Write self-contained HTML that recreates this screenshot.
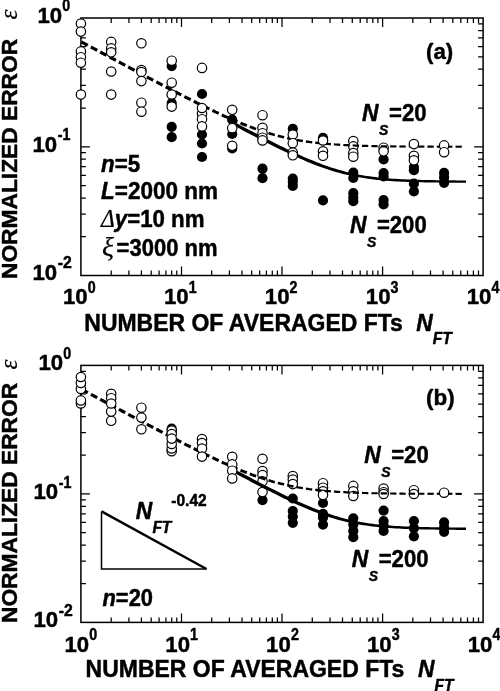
<!DOCTYPE html>
<html><head><meta charset="utf-8"><title>Normalized error vs number of averaged FTs</title>
<style>html,body{margin:0;padding:0;background:#fff}svg{display:block}text{font-family:"Liberation Sans",Arial,Helvetica,sans-serif;font-weight:bold;fill:#000;stroke:#000;stroke-width:0.45px;stroke-linejoin:round}.i{font-style:italic}.s{font-family:"Liberation Serif","DejaVu Serif",serif;font-style:italic;font-weight:normal;stroke-width:0.2px}</style></head><body>
<svg width="500" height="691" viewBox="0 0 500 691">
<rect width="500" height="691" fill="#fff"/>
<path d="M111.2 18.0v5.0M111.2 275.5v-5.0M128.9 18.0v5.0M128.9 275.5v-5.0M141.4 18.0v5.0M141.4 275.5v-5.0M151.2 18.0v5.0M151.2 275.5v-5.0M159.1 18.0v5.0M159.1 275.5v-5.0M165.9 18.0v5.0M165.9 275.5v-5.0M171.7 18.0v5.0M171.7 275.5v-5.0M176.8 18.0v5.0M176.8 275.5v-5.0M181.5 18.0v9.0M181.5 275.5v-9.0M211.7 18.0v5.0M211.7 275.5v-5.0M229.4 18.0v5.0M229.4 275.5v-5.0M242.0 18.0v5.0M242.0 275.5v-5.0M251.7 18.0v5.0M251.7 275.5v-5.0M259.7 18.0v5.0M259.7 275.5v-5.0M266.4 18.0v5.0M266.4 275.5v-5.0M272.3 18.0v5.0M272.3 275.5v-5.0M277.4 18.0v5.0M277.4 275.5v-5.0M282.0 18.0v9.0M282.0 275.5v-9.0M312.3 18.0v5.0M312.3 275.5v-5.0M330.0 18.0v5.0M330.0 275.5v-5.0M342.5 18.0v5.0M342.5 275.5v-5.0M352.3 18.0v5.0M352.3 275.5v-5.0M360.2 18.0v5.0M360.2 275.5v-5.0M367.0 18.0v5.0M367.0 275.5v-5.0M372.8 18.0v5.0M372.8 275.5v-5.0M377.9 18.0v5.0M377.9 275.5v-5.0M382.6 18.0v9.0M382.6 275.5v-9.0M412.8 18.0v5.0M412.8 275.5v-5.0M430.5 18.0v5.0M430.5 275.5v-5.0M443.1 18.0v5.0M443.1 275.5v-5.0M452.8 18.0v5.0M452.8 275.5v-5.0M460.8 18.0v5.0M460.8 275.5v-5.0M467.5 18.0v5.0M467.5 275.5v-5.0M473.4 18.0v5.0M473.4 275.5v-5.0M478.5 18.0v5.0M478.5 275.5v-5.0M80.9 236.7h5.0M483.1 236.7h-5.0M80.9 214.1h5.0M483.1 214.1h-5.0M80.9 198.0h5.0M483.1 198.0h-5.0M80.9 185.5h5.0M483.1 185.5h-5.0M80.9 175.3h5.0M483.1 175.3h-5.0M80.9 166.7h5.0M483.1 166.7h-5.0M80.9 159.2h5.0M483.1 159.2h-5.0M80.9 152.6h5.0M483.1 152.6h-5.0M80.9 146.8h9.0M483.1 146.8h-9.0M80.9 108.0h5.0M483.1 108.0h-5.0M80.9 85.3h5.0M483.1 85.3h-5.0M80.9 69.2h5.0M483.1 69.2h-5.0M80.9 56.8h5.0M483.1 56.8h-5.0M80.9 46.6h5.0M483.1 46.6h-5.0M80.9 37.9h5.0M483.1 37.9h-5.0M80.9 30.5h5.0M483.1 30.5h-5.0M80.9 23.9h5.0M483.1 23.9h-5.0" stroke="#000" stroke-width="1.25" fill="none"/>
<rect x="80.9" y="18.0" width="402.2" height="257.5" fill="none" stroke="#000" stroke-width="1.5"/>
<circle cx="171.7" cy="66.1" r="5.1" fill="#000"/>
<circle cx="171.7" cy="103.0" r="5.1" fill="#000"/>
<circle cx="171.7" cy="126.8" r="5.1" fill="#000"/>
<circle cx="171.7" cy="137.2" r="5.1" fill="#000"/>
<circle cx="202.0" cy="94.0" r="5.1" fill="#000"/>
<circle cx="202.0" cy="134.5" r="5.1" fill="#000"/>
<circle cx="202.0" cy="143.5" r="5.1" fill="#000"/>
<circle cx="202.0" cy="157.0" r="5.1" fill="#000"/>
<circle cx="232.2" cy="119.7" r="5.1" fill="#000"/>
<circle cx="232.2" cy="134.0" r="5.1" fill="#000"/>
<circle cx="232.2" cy="148.5" r="5.1" fill="#000"/>
<circle cx="262.5" cy="168.7" r="5.1" fill="#000"/>
<circle cx="262.5" cy="178.2" r="5.1" fill="#000"/>
<circle cx="292.8" cy="128.8" r="5.1" fill="#000"/>
<circle cx="292.8" cy="178.6" r="5.1" fill="#000"/>
<circle cx="292.8" cy="181.9" r="5.1" fill="#000"/>
<circle cx="292.8" cy="186.0" r="5.1" fill="#000"/>
<circle cx="323.0" cy="137.8" r="5.1" fill="#000"/>
<circle cx="323.0" cy="200.4" r="5.1" fill="#000"/>
<circle cx="353.3" cy="172.5" r="5.1" fill="#000"/>
<circle cx="353.3" cy="178.0" r="5.1" fill="#000"/>
<circle cx="353.3" cy="193.2" r="5.1" fill="#000"/>
<circle cx="353.3" cy="197.5" r="5.1" fill="#000"/>
<circle cx="353.3" cy="201.2" r="5.1" fill="#000"/>
<circle cx="383.6" cy="159.4" r="5.1" fill="#000"/>
<circle cx="383.6" cy="173.0" r="5.1" fill="#000"/>
<circle cx="383.6" cy="176.5" r="5.1" fill="#000"/>
<circle cx="383.6" cy="200.0" r="5.1" fill="#000"/>
<circle cx="383.6" cy="204.4" r="5.1" fill="#000"/>
<circle cx="413.9" cy="167.0" r="5.1" fill="#000"/>
<circle cx="413.9" cy="170.2" r="5.1" fill="#000"/>
<circle cx="413.9" cy="183.7" r="5.1" fill="#000"/>
<circle cx="413.9" cy="191.4" r="5.1" fill="#000"/>
<circle cx="444.1" cy="172.9" r="5.1" fill="#000"/>
<circle cx="444.1" cy="177.4" r="5.1" fill="#000"/>
<circle cx="444.1" cy="182.8" r="5.1" fill="#000"/>
<circle cx="353.3" cy="141.0" r="4.7" fill="#fff" stroke="#000" stroke-width="1.2"/>
<circle cx="353.3" cy="146.4" r="4.7" fill="#fff" stroke="#000" stroke-width="1.2"/>
<circle cx="353.3" cy="153.0" r="4.7" fill="#fff" stroke="#000" stroke-width="1.2"/>
<circle cx="353.3" cy="156.7" r="4.7" fill="#fff" stroke="#000" stroke-width="1.2"/>
<circle cx="383.6" cy="147.7" r="4.7" fill="#fff" stroke="#000" stroke-width="1.2"/>
<circle cx="383.6" cy="151.3" r="4.7" fill="#fff" stroke="#000" stroke-width="1.2"/>
<g stroke="#000" fill="none"><path d="M455.5 146.7 L457.1 146.7 L458.6 146.7 L460.2 146.7 L461.8 146.7" stroke-width="2.10"/><path d="M446.1 146.7 L447.7 146.7 L449.3 146.7 L450.9 146.7 L452.4 146.7" stroke-width="2.10"/><path d="M436.8 146.7 L438.4 146.7 L440.0 146.7 L441.5 146.7 L443.1 146.7" stroke-width="2.10"/><path d="M427.4 146.6 L429.0 146.6 L430.6 146.6 L432.2 146.6 L433.8 146.7" stroke-width="2.11"/><path d="M418.1 146.6 L419.7 146.6 L421.2 146.6 L422.8 146.6 L424.4 146.6" stroke-width="2.11"/><path d="M408.8 146.5 L410.3 146.5 L411.9 146.6 L413.5 146.6 L415.1 146.6" stroke-width="2.11"/><path d="M399.4 146.5 L401.0 146.5 L402.6 146.5 L404.1 146.5 L405.7 146.5" stroke-width="2.12"/><path d="M390.1 146.4 L391.6 146.4 L393.2 146.4 L394.8 146.4 L396.4 146.4" stroke-width="2.12"/><path d="M380.7 146.2 L382.3 146.2 L383.9 146.3 L385.4 146.3 L387.0 146.3" stroke-width="2.13"/><path d="M371.4 146.0 L372.9 146.1 L374.5 146.1 L376.1 146.1 L377.7 146.2" stroke-width="2.14"/><path d="M362.0 145.8 L363.6 145.8 L365.1 145.9 L366.7 145.9 L368.3 146.0" stroke-width="2.15"/><path d="M352.7 145.4 L354.2 145.5 L355.8 145.6 L357.4 145.6 L359.0 145.7" stroke-width="2.17"/><path d="M343.3 145.0 L344.9 145.1 L346.5 145.2 L348.0 145.2 L349.6 145.3" stroke-width="2.20"/><path d="M333.9 144.4 L335.5 144.5 L337.1 144.6 L338.7 144.7 L340.2 144.8" stroke-width="2.23"/><path d="M324.6 143.7 L326.2 143.8 L327.8 143.9 L329.3 144.1 L330.9 144.2" stroke-width="2.26"/><path d="M315.2 142.7 L316.8 142.9 L318.4 143.0 L320.0 143.2 L321.6 143.4" stroke-width="2.31"/><path d="M305.9 141.5 L307.5 141.7 L309.1 141.9 L310.6 142.1 L312.2 142.3" stroke-width="2.37"/><path d="M296.6 139.9 L298.1 140.2 L299.7 140.5 L301.3 140.7 L302.9 141.0" stroke-width="2.43"/><path d="M287.2 138.0 L288.8 138.4 L290.4 138.7 L291.9 139.0 L293.5 139.3" stroke-width="2.51"/><path d="M277.8 135.8 L279.4 136.2 L281.0 136.6 L282.6 136.9 L284.1 137.3" stroke-width="2.59"/><path d="M268.5 133.1 L270.1 133.6 L271.6 134.0 L273.2 134.5 L274.8 134.9" stroke-width="2.67"/><path d="M259.2 130.1 L260.7 130.6 L262.3 131.2 L263.9 131.7 L265.5 132.2" stroke-width="2.74"/><path d="M249.8 126.7 L251.4 127.3 L253.0 127.9 L254.5 128.5 L256.1 129.0" stroke-width="2.82"/><path d="M240.5 123.0 L242.0 123.7 L243.6 124.3 L245.2 124.9 L246.8 125.6" stroke-width="2.88"/><path d="M231.1 119.1 L232.7 119.7 L234.3 120.4 L235.8 121.1 L237.4 121.8" stroke-width="2.94"/><path d="M221.8 114.9 L223.3 115.6 L224.9 116.3 L226.5 117.0 L228.1 117.7" stroke-width="2.99"/><path d="M212.4 110.5 L214.0 111.2 L215.6 112.0 L217.1 112.7 L218.7 113.4" stroke-width="3.02"/><path d="M203.1 105.9 L204.6 106.7 L206.2 107.5 L207.8 108.2 L209.4 109.0" stroke-width="3.06"/><path d="M193.7 101.3 L195.3 102.0 L196.8 102.8 L198.4 103.6 L200.0 104.4" stroke-width="3.08"/><path d="M184.4 96.5 L185.9 97.3 L187.5 98.1 L189.1 98.9 L190.7 99.7" stroke-width="3.10"/><path d="M175.0 91.7 L176.6 92.5 L178.2 93.3 L179.7 94.1 L181.3 94.9" stroke-width="3.11"/><path d="M165.7 86.8 L167.2 87.6 L168.8 88.4 L170.4 89.3 L172.0 90.1" stroke-width="3.12"/><path d="M156.3 81.9 L157.9 82.7 L159.5 83.5 L161.0 84.4 L162.6 85.2" stroke-width="3.13"/><path d="M146.9 76.9 L148.5 77.8 L150.1 78.6 L151.7 79.4 L153.2 80.3" stroke-width="3.13"/><path d="M137.6 72.0 L139.2 72.8 L140.8 73.7 L142.3 74.5 L143.9 75.3" stroke-width="3.14"/><path d="M128.2 67.0 L129.8 67.8 L131.4 68.7 L133.0 69.5 L134.6 70.4" stroke-width="3.14"/><path d="M118.9 62.0 L120.5 62.8 L122.1 63.7 L123.6 64.5 L125.2 65.4" stroke-width="3.14"/><path d="M109.6 57.0 L111.1 57.8 L112.7 58.7 L114.3 59.5 L115.9 60.4" stroke-width="3.15"/><path d="M100.2 52.0 L101.8 52.8 L103.3 53.7 L104.9 54.5 L106.5 55.4" stroke-width="3.15"/><path d="M90.9 47.0 L92.4 47.8 L94.0 48.7 L95.6 49.5 L97.2 50.4" stroke-width="3.15"/><path d="M81.5 42.0 L83.1 42.8 L84.7 43.6 L86.2 44.5 L87.8 45.3" stroke-width="3.15"/></g>
<path d="M231.2 124.2 L234.1 125.8 L237.1 127.3 L240.0 128.8 L242.9 130.4 L245.8 131.9 L248.8 133.4 L251.7 135.0 L254.6 136.5 L257.6 138.0 L260.5 139.5 L263.4 141.0 L266.3 142.5 L269.3 144.0 L272.2 145.5 L275.1 146.9 L278.1 148.4 L281.0 149.8 L283.9 151.2 L286.9 152.6 L289.8 154.0 L292.7 155.4 L295.7 156.7 L298.6 158.0 L301.6 159.3 L304.5 160.6 L307.4 161.9 L310.4 163.1 L313.3 164.3 L316.3 165.4 L319.2 166.5 L322.2 167.6 L325.1 168.6 L328.0 169.6 L331.0 170.5 L333.9 171.5 L336.9 172.3 L339.8 173.1 L342.8 173.9 L345.7 174.6 L348.7 175.3 L351.6 176.0 L354.6 176.6 L357.5 177.1 L360.5 177.6 L363.4 178.1 L366.4 178.6 L369.3 179.0 L372.2 179.3 L375.2 179.7 L378.1 180.0 L381.1 180.3 L384.0 180.5 L386.9 180.8 L389.9 181.0 L392.8 181.2 L395.7 181.4 L398.7 181.5 L401.6 181.7 L404.5 181.8 L407.5 181.9 L410.4 182.0 L413.3 182.1 L416.2 182.2 L419.2 182.3 L422.1 182.3 L425.0 182.4 L428.0 182.5 L430.9 182.5 L433.8 182.5 L436.7 182.6 L439.7 182.6 L442.6 182.7 L445.5 182.7 L448.4 182.7 L451.4 182.7 L454.3 182.8 L457.2 182.8 L460.1 182.8 L463.1 182.8 L466.0 182.8 L466.0 180.4 L463.1 180.4 L460.2 180.4 L457.2 180.4 L454.3 180.3 L451.4 180.3 L448.5 180.3 L445.5 180.3 L442.6 180.2 L439.7 180.2 L436.8 180.2 L433.8 180.1 L430.9 180.1 L428.0 180.0 L425.1 180.0 L422.2 179.9 L419.2 179.8 L416.3 179.7 L413.4 179.6 L410.5 179.5 L407.5 179.4 L404.6 179.3 L401.7 179.2 L398.8 179.0 L395.9 178.8 L393.0 178.7 L390.0 178.5 L387.1 178.2 L384.2 178.0 L381.3 177.7 L378.4 177.4 L375.5 177.1 L372.6 176.7 L369.7 176.3 L366.7 175.9 L363.8 175.4 L360.9 175.0 L358.0 174.4 L355.1 173.8 L352.2 173.2 L349.3 172.6 L346.4 171.9 L343.5 171.1 L340.6 170.3 L337.7 169.5 L334.8 168.6 L331.9 167.7 L329.0 166.7 L326.1 165.7 L323.2 164.7 L320.3 163.6 L317.4 162.5 L314.5 161.3 L311.6 160.1 L308.7 158.9 L305.8 157.7 L302.8 156.4 L299.9 155.1 L297.0 153.8 L294.1 152.4 L291.2 151.0 L288.3 149.7 L285.4 148.3 L282.5 146.8 L279.5 145.4 L276.6 143.9 L273.7 142.5 L270.8 141.0 L267.9 139.5 L264.9 138.0 L262.0 136.5 L259.1 135.0 L256.2 133.5 L253.3 132.0 L250.3 130.5 L247.4 128.9 L244.5 127.4 L241.6 125.9 L238.6 124.3 L235.7 122.8 L232.8 121.2Z" fill="#000"/>
<circle cx="80.9" cy="23.5" r="4.7" fill="#fff" stroke="#000" stroke-width="1.2"/>
<circle cx="80.9" cy="31.6" r="4.7" fill="#fff" stroke="#000" stroke-width="1.2"/>
<circle cx="80.9" cy="51.4" r="4.7" fill="#fff" stroke="#000" stroke-width="1.2"/>
<circle cx="80.9" cy="57.2" r="4.7" fill="#fff" stroke="#000" stroke-width="1.2"/>
<circle cx="80.9" cy="62.7" r="4.7" fill="#fff" stroke="#000" stroke-width="1.2"/>
<circle cx="80.9" cy="94.6" r="4.7" fill="#fff" stroke="#000" stroke-width="1.2"/>
<circle cx="111.2" cy="41.9" r="4.7" fill="#fff" stroke="#000" stroke-width="1.2"/>
<circle cx="111.2" cy="48.4" r="4.7" fill="#fff" stroke="#000" stroke-width="1.2"/>
<circle cx="111.2" cy="52.3" r="4.7" fill="#fff" stroke="#000" stroke-width="1.2"/>
<circle cx="111.2" cy="71.5" r="4.7" fill="#fff" stroke="#000" stroke-width="1.2"/>
<circle cx="111.2" cy="94.6" r="4.7" fill="#fff" stroke="#000" stroke-width="1.2"/>
<circle cx="141.4" cy="43.3" r="4.7" fill="#fff" stroke="#000" stroke-width="1.2"/>
<circle cx="141.4" cy="70.0" r="4.7" fill="#fff" stroke="#000" stroke-width="1.2"/>
<circle cx="141.4" cy="72.0" r="4.7" fill="#fff" stroke="#000" stroke-width="1.2"/>
<circle cx="141.4" cy="81.1" r="4.7" fill="#fff" stroke="#000" stroke-width="1.2"/>
<circle cx="141.4" cy="102.7" r="4.7" fill="#fff" stroke="#000" stroke-width="1.2"/>
<circle cx="141.4" cy="111.7" r="4.7" fill="#fff" stroke="#000" stroke-width="1.2"/>
<circle cx="171.7" cy="60.7" r="4.7" fill="#fff" stroke="#000" stroke-width="1.2"/>
<circle cx="171.7" cy="82.7" r="4.7" fill="#fff" stroke="#000" stroke-width="1.2"/>
<circle cx="171.7" cy="94.5" r="4.7" fill="#fff" stroke="#000" stroke-width="1.2"/>
<circle cx="171.7" cy="106.6" r="4.7" fill="#fff" stroke="#000" stroke-width="1.2"/>
<circle cx="202.0" cy="67.9" r="4.7" fill="#fff" stroke="#000" stroke-width="1.2"/>
<circle cx="202.0" cy="113.8" r="4.7" fill="#fff" stroke="#000" stroke-width="1.2"/>
<circle cx="202.0" cy="119.2" r="4.7" fill="#fff" stroke="#000" stroke-width="1.2"/>
<circle cx="202.0" cy="108.0" r="4.7" fill="#fff" stroke="#000" stroke-width="1.2"/>
<circle cx="202.0" cy="126.4" r="4.7" fill="#fff" stroke="#000" stroke-width="1.2"/>
<circle cx="232.2" cy="109.8" r="4.7" fill="#fff" stroke="#000" stroke-width="1.2"/>
<circle cx="232.2" cy="128.2" r="4.7" fill="#fff" stroke="#000" stroke-width="1.2"/>
<circle cx="232.2" cy="145.8" r="4.7" fill="#fff" stroke="#000" stroke-width="1.2"/>
<circle cx="262.5" cy="115.2" r="4.7" fill="#fff" stroke="#000" stroke-width="1.2"/>
<circle cx="262.5" cy="127.8" r="4.7" fill="#fff" stroke="#000" stroke-width="1.2"/>
<circle cx="262.5" cy="133.2" r="4.7" fill="#fff" stroke="#000" stroke-width="1.2"/>
<circle cx="262.5" cy="137.7" r="4.7" fill="#fff" stroke="#000" stroke-width="1.2"/>
<circle cx="262.5" cy="140.4" r="4.7" fill="#fff" stroke="#000" stroke-width="1.2"/>
<circle cx="292.8" cy="134.6" r="4.7" fill="#fff" stroke="#000" stroke-width="1.2"/>
<circle cx="292.8" cy="143.2" r="4.7" fill="#fff" stroke="#000" stroke-width="1.2"/>
<circle cx="292.8" cy="152.5" r="4.7" fill="#fff" stroke="#000" stroke-width="1.2"/>
<circle cx="292.8" cy="155.3" r="4.7" fill="#fff" stroke="#000" stroke-width="1.2"/>
<circle cx="323.0" cy="140.5" r="4.7" fill="#fff" stroke="#000" stroke-width="1.2"/>
<circle cx="323.0" cy="151.3" r="4.7" fill="#fff" stroke="#000" stroke-width="1.2"/>
<circle cx="323.0" cy="155.8" r="4.7" fill="#fff" stroke="#000" stroke-width="1.2"/>
<circle cx="413.9" cy="144.1" r="4.7" fill="#fff" stroke="#000" stroke-width="1.2"/>
<circle cx="413.9" cy="155.8" r="4.7" fill="#fff" stroke="#000" stroke-width="1.2"/>
<circle cx="413.9" cy="160.3" r="4.7" fill="#fff" stroke="#000" stroke-width="1.2"/>
<circle cx="444.1" cy="145.4" r="4.7" fill="#fff" stroke="#000" stroke-width="1.2"/>
<circle cx="444.1" cy="152.2" r="4.7" fill="#fff" stroke="#000" stroke-width="1.2"/>
<text transform="translate(37.5 22.5) scale(0.975 1.000)" font-size="22.8" text-anchor="start">10</text>
<text transform="translate(62.3 10.9) scale(0.920 1.030)" font-size="15.5" text-anchor="start">0</text>
<text transform="translate(32.5 151.8) scale(0.975 1.000)" font-size="22.8" text-anchor="start">10</text>
<text transform="translate(57.8 140.2) scale(0.920 1.030)" font-size="15.5" text-anchor="start">-1</text>
<text transform="translate(32.5 279.9) scale(0.975 1.000)" font-size="22.8" text-anchor="start">10</text>
<text transform="translate(57.8 268.3) scale(1.020 1.030)" font-size="15.5" text-anchor="start">-2</text>
<text transform="translate(62.9 304.4) scale(0.975 1.000)" font-size="22.8" text-anchor="start">10</text>
<text transform="translate(87.7 292.8) scale(0.920 1.030)" font-size="15.5" text-anchor="start">0</text>
<text transform="translate(163.9 304.4) scale(0.975 1.000)" font-size="22.8" text-anchor="start">10</text>
<text transform="translate(188.7 292.8) scale(0.920 1.030)" font-size="15.5" text-anchor="start">1</text>
<text transform="translate(264.8 304.4) scale(0.975 1.000)" font-size="22.8" text-anchor="start">10</text>
<text transform="translate(289.6 292.8) scale(0.920 1.030)" font-size="15.5" text-anchor="start">2</text>
<text transform="translate(365.8 304.4) scale(0.975 1.000)" font-size="22.8" text-anchor="start">10</text>
<text transform="translate(390.6 292.8) scale(0.920 1.030)" font-size="15.5" text-anchor="start">3</text>
<text transform="translate(466.7 304.4) scale(0.975 1.000)" font-size="22.8" text-anchor="start">10</text>
<text transform="translate(491.5 292.8) scale(0.920 1.030)" font-size="15.5" text-anchor="start">4</text>
<text transform="translate(84.3 331.0) scale(1.008 1.080)" font-size="22.8" text-anchor="start">NUMBER OF AVERAGED FTs</text>
<text transform="translate(416.3 331.0) scale(1.000 1.060)" font-size="22.8" text-anchor="start" class="i">N</text>
<text transform="translate(432.8 343.7) scale(1.000 1.050)" font-size="15.5" text-anchor="start" class="i">FT</text>
<text transform="translate(17.1 279.0) rotate(-90)" font-size="22.75">NORMALIZED ERROR</text>
<text transform="translate(17.2 19.5) rotate(-90)" font-size="25" class="s">ε</text>
<path d="M111.2 365.4v5.0M111.2 622.4v-5.0M128.9 365.4v5.0M128.9 622.4v-5.0M141.4 365.4v5.0M141.4 622.4v-5.0M151.2 365.4v5.0M151.2 622.4v-5.0M159.1 365.4v5.0M159.1 622.4v-5.0M165.9 365.4v5.0M165.9 622.4v-5.0M171.7 365.4v5.0M171.7 622.4v-5.0M176.8 365.4v5.0M176.8 622.4v-5.0M181.5 365.4v9.0M181.5 622.4v-9.0M211.7 365.4v5.0M211.7 622.4v-5.0M229.4 365.4v5.0M229.4 622.4v-5.0M242.0 365.4v5.0M242.0 622.4v-5.0M251.7 365.4v5.0M251.7 622.4v-5.0M259.7 365.4v5.0M259.7 622.4v-5.0M266.4 365.4v5.0M266.4 622.4v-5.0M272.3 365.4v5.0M272.3 622.4v-5.0M277.4 365.4v5.0M277.4 622.4v-5.0M282.0 365.4v9.0M282.0 622.4v-9.0M312.3 365.4v5.0M312.3 622.4v-5.0M330.0 365.4v5.0M330.0 622.4v-5.0M342.5 365.4v5.0M342.5 622.4v-5.0M352.3 365.4v5.0M352.3 622.4v-5.0M360.2 365.4v5.0M360.2 622.4v-5.0M367.0 365.4v5.0M367.0 622.4v-5.0M372.8 365.4v5.0M372.8 622.4v-5.0M377.9 365.4v5.0M377.9 622.4v-5.0M382.6 365.4v9.0M382.6 622.4v-9.0M412.8 365.4v5.0M412.8 622.4v-5.0M430.5 365.4v5.0M430.5 622.4v-5.0M443.1 365.4v5.0M443.1 622.4v-5.0M452.8 365.4v5.0M452.8 622.4v-5.0M460.8 365.4v5.0M460.8 622.4v-5.0M467.5 365.4v5.0M467.5 622.4v-5.0M473.4 365.4v5.0M473.4 622.4v-5.0M478.5 365.4v5.0M478.5 622.4v-5.0M80.9 583.7h5.0M483.1 583.7h-5.0M80.9 561.1h5.0M483.1 561.1h-5.0M80.9 545.0h5.0M483.1 545.0h-5.0M80.9 532.6h5.0M483.1 532.6h-5.0M80.9 522.4h5.0M483.1 522.4h-5.0M80.9 513.8h5.0M483.1 513.8h-5.0M80.9 506.4h5.0M483.1 506.4h-5.0M80.9 499.8h5.0M483.1 499.8h-5.0M80.9 493.9h9.0M483.1 493.9h-9.0M80.9 455.2h5.0M483.1 455.2h-5.0M80.9 432.6h5.0M483.1 432.6h-5.0M80.9 416.5h5.0M483.1 416.5h-5.0M80.9 404.1h5.0M483.1 404.1h-5.0M80.9 393.9h5.0M483.1 393.9h-5.0M80.9 385.3h5.0M483.1 385.3h-5.0M80.9 377.9h5.0M483.1 377.9h-5.0M80.9 371.3h5.0M483.1 371.3h-5.0" stroke="#000" stroke-width="1.25" fill="none"/>
<rect x="80.9" y="365.4" width="402.2" height="257.0" fill="none" stroke="#000" stroke-width="1.5"/>
<circle cx="171.7" cy="428.7" r="5.1" fill="#000"/>
<circle cx="262.5" cy="500.2" r="5.1" fill="#000"/>
<circle cx="292.8" cy="498.5" r="5.1" fill="#000"/>
<circle cx="292.8" cy="511.1" r="5.1" fill="#000"/>
<circle cx="292.8" cy="516.5" r="5.1" fill="#000"/>
<circle cx="292.8" cy="522.8" r="5.1" fill="#000"/>
<circle cx="323.0" cy="503.0" r="5.1" fill="#000"/>
<circle cx="323.0" cy="513.8" r="5.1" fill="#000"/>
<circle cx="323.0" cy="517.4" r="5.1" fill="#000"/>
<circle cx="323.0" cy="524.6" r="5.1" fill="#000"/>
<circle cx="353.3" cy="518.3" r="5.1" fill="#000"/>
<circle cx="353.3" cy="524.6" r="5.1" fill="#000"/>
<circle cx="353.3" cy="530.9" r="5.1" fill="#000"/>
<circle cx="353.3" cy="537.2" r="5.1" fill="#000"/>
<circle cx="383.6" cy="510.6" r="5.1" fill="#000"/>
<circle cx="383.6" cy="521.0" r="5.1" fill="#000"/>
<circle cx="383.6" cy="525.5" r="5.1" fill="#000"/>
<circle cx="383.6" cy="530.9" r="5.1" fill="#000"/>
<circle cx="413.9" cy="521.0" r="5.1" fill="#000"/>
<circle cx="413.9" cy="528.2" r="5.1" fill="#000"/>
<circle cx="413.9" cy="536.3" r="5.1" fill="#000"/>
<circle cx="444.1" cy="522.4" r="5.1" fill="#000"/>
<circle cx="444.1" cy="527.3" r="5.1" fill="#000"/>
<circle cx="444.1" cy="531.8" r="5.1" fill="#000"/>
<circle cx="262.5" cy="458.8" r="4.7" fill="#fff" stroke="#000" stroke-width="1.2"/>
<circle cx="262.5" cy="471.0" r="4.7" fill="#fff" stroke="#000" stroke-width="1.2"/>
<circle cx="262.5" cy="475.0" r="4.7" fill="#fff" stroke="#000" stroke-width="1.2"/>
<circle cx="262.5" cy="481.3" r="4.7" fill="#fff" stroke="#000" stroke-width="1.2"/>
<circle cx="262.5" cy="492.1" r="4.7" fill="#fff" stroke="#000" stroke-width="1.2"/>
<circle cx="292.8" cy="476.0" r="4.7" fill="#fff" stroke="#000" stroke-width="1.2"/>
<circle cx="292.8" cy="479.6" r="4.7" fill="#fff" stroke="#000" stroke-width="1.2"/>
<circle cx="292.8" cy="484.1" r="4.7" fill="#fff" stroke="#000" stroke-width="1.2"/>
<circle cx="323.0" cy="483.2" r="4.7" fill="#fff" stroke="#000" stroke-width="1.2"/>
<circle cx="323.0" cy="487.7" r="4.7" fill="#fff" stroke="#000" stroke-width="1.2"/>
<circle cx="323.0" cy="491.3" r="4.7" fill="#fff" stroke="#000" stroke-width="1.2"/>
<circle cx="323.0" cy="494.9" r="4.7" fill="#fff" stroke="#000" stroke-width="1.2"/>
<circle cx="353.3" cy="485.9" r="4.7" fill="#fff" stroke="#000" stroke-width="1.2"/>
<circle cx="353.3" cy="491.3" r="4.7" fill="#fff" stroke="#000" stroke-width="1.2"/>
<circle cx="353.3" cy="496.0" r="4.7" fill="#fff" stroke="#000" stroke-width="1.2"/>
<circle cx="383.6" cy="488.6" r="4.7" fill="#fff" stroke="#000" stroke-width="1.2"/>
<circle cx="383.6" cy="492.2" r="4.7" fill="#fff" stroke="#000" stroke-width="1.2"/>
<circle cx="383.6" cy="494.0" r="4.7" fill="#fff" stroke="#000" stroke-width="1.2"/>
<circle cx="413.9" cy="490.2" r="4.7" fill="#fff" stroke="#000" stroke-width="1.2"/>
<circle cx="413.9" cy="494.0" r="4.7" fill="#fff" stroke="#000" stroke-width="1.2"/>
<g stroke="#000" fill="none"><path d="M455.5 493.9 L457.1 493.9 L458.6 493.9 L460.2 493.9 L461.8 493.9" stroke-width="2.10"/><path d="M446.1 493.8 L447.7 493.8 L449.3 493.8 L450.9 493.8 L452.4 493.8" stroke-width="2.10"/><path d="M436.8 493.8 L438.4 493.8 L440.0 493.8 L441.5 493.8 L443.1 493.8" stroke-width="2.10"/><path d="M427.4 493.8 L429.0 493.8 L430.6 493.8 L432.2 493.8 L433.8 493.8" stroke-width="2.11"/><path d="M418.1 493.7 L419.7 493.7 L421.2 493.8 L422.8 493.8 L424.4 493.8" stroke-width="2.11"/><path d="M408.8 493.7 L410.3 493.7 L411.9 493.7 L413.5 493.7 L415.1 493.7" stroke-width="2.11"/><path d="M399.4 493.6 L401.0 493.6 L402.6 493.6 L404.1 493.7 L405.7 493.7" stroke-width="2.12"/><path d="M390.1 493.5 L391.6 493.5 L393.2 493.5 L394.8 493.6 L396.4 493.6" stroke-width="2.12"/><path d="M380.7 493.4 L382.3 493.4 L383.9 493.4 L385.4 493.4 L387.0 493.5" stroke-width="2.13"/><path d="M371.4 493.2 L372.9 493.2 L374.5 493.3 L376.1 493.3 L377.7 493.3" stroke-width="2.14"/><path d="M362.0 492.9 L363.6 493.0 L365.1 493.0 L366.7 493.1 L368.3 493.1" stroke-width="2.15"/><path d="M352.7 492.6 L354.2 492.7 L355.8 492.7 L357.4 492.8 L359.0 492.8" stroke-width="2.17"/><path d="M343.3 492.2 L344.9 492.2 L346.5 492.3 L348.0 492.4 L349.6 492.5" stroke-width="2.20"/><path d="M333.9 491.6 L335.5 491.7 L337.1 491.8 L338.7 491.9 L340.2 492.0" stroke-width="2.23"/><path d="M324.6 490.8 L326.2 491.0 L327.8 491.1 L329.3 491.2 L330.9 491.4" stroke-width="2.26"/><path d="M315.2 489.8 L316.8 490.0 L318.4 490.2 L320.0 490.4 L321.6 490.5" stroke-width="2.31"/><path d="M305.9 488.6 L307.5 488.8 L309.1 489.1 L310.6 489.3 L312.2 489.5" stroke-width="2.37"/><path d="M296.6 487.1 L298.1 487.4 L299.7 487.6 L301.3 487.9 L302.9 488.1" stroke-width="2.43"/><path d="M287.2 485.2 L288.8 485.5 L290.4 485.9 L291.9 486.2 L293.5 486.5" stroke-width="2.51"/><path d="M277.8 482.9 L279.4 483.3 L281.0 483.7 L282.6 484.1 L284.1 484.5" stroke-width="2.58"/><path d="M268.5 480.3 L270.1 480.8 L271.6 481.2 L273.2 481.7 L274.8 482.1" stroke-width="2.66"/><path d="M259.2 477.3 L260.7 477.8 L262.3 478.3 L263.9 478.8 L265.5 479.4" stroke-width="2.74"/><path d="M249.8 473.9 L251.4 474.5 L253.0 475.1 L254.5 475.7 L256.1 476.2" stroke-width="2.82"/><path d="M240.5 470.2 L242.0 470.9 L243.6 471.5 L245.2 472.1 L246.8 472.7" stroke-width="2.88"/><path d="M231.1 466.3 L232.7 466.9 L234.3 467.6 L235.8 468.3 L237.4 469.0" stroke-width="2.94"/><path d="M221.8 462.1 L223.3 462.8 L224.9 463.5 L226.5 464.2 L228.1 464.9" stroke-width="2.98"/><path d="M212.4 457.7 L214.0 458.4 L215.6 459.2 L217.1 459.9 L218.7 460.7" stroke-width="3.02"/><path d="M203.1 453.1 L204.6 453.9 L206.2 454.7 L207.8 455.5 L209.4 456.2" stroke-width="3.05"/><path d="M193.7 448.5 L195.3 449.3 L196.8 450.1 L198.4 450.9 L200.0 451.6" stroke-width="3.08"/><path d="M184.4 443.7 L185.9 444.6 L187.5 445.4 L189.1 446.2 L190.7 447.0" stroke-width="3.09"/><path d="M175.0 438.9 L176.6 439.7 L178.2 440.6 L179.7 441.4 L181.3 442.2" stroke-width="3.11"/><path d="M165.7 434.1 L167.2 434.9 L168.8 435.7 L170.4 436.5 L172.0 437.4" stroke-width="3.12"/><path d="M156.3 429.2 L157.9 430.0 L159.5 430.8 L161.0 431.6 L162.6 432.5" stroke-width="3.13"/><path d="M146.9 424.2 L148.5 425.1 L150.1 425.9 L151.7 426.7 L153.2 427.6" stroke-width="3.13"/><path d="M137.6 419.3 L139.2 420.1 L140.8 420.9 L142.3 421.8 L143.9 422.6" stroke-width="3.14"/><path d="M128.2 414.3 L129.8 415.1 L131.4 416.0 L133.0 416.8 L134.6 417.7" stroke-width="3.14"/><path d="M118.9 409.3 L120.5 410.2 L122.1 411.0 L123.6 411.8 L125.2 412.7" stroke-width="3.14"/><path d="M109.6 404.3 L111.1 405.2 L112.7 406.0 L114.3 406.8 L115.9 407.7" stroke-width="3.14"/><path d="M100.2 399.3 L101.8 400.2 L103.3 401.0 L104.9 401.8 L106.5 402.7" stroke-width="3.15"/><path d="M90.9 394.3 L92.4 395.2 L94.0 396.0 L95.6 396.8 L97.2 397.7" stroke-width="3.15"/><path d="M81.5 389.3 L83.1 390.2 L84.7 391.0 L86.2 391.8 L87.8 392.7" stroke-width="3.15"/></g>
<path d="M231.2 471.4 L234.1 473.0 L237.1 474.5 L240.0 476.0 L242.9 477.6 L245.8 479.1 L248.8 480.6 L251.7 482.2 L254.6 483.7 L257.6 485.2 L260.5 486.7 L263.4 488.2 L266.3 489.7 L269.3 491.1 L272.2 492.6 L275.1 494.1 L278.1 495.5 L281.0 497.0 L283.9 498.4 L286.9 499.8 L289.8 501.2 L292.7 502.5 L295.7 503.9 L298.6 505.2 L301.6 506.5 L304.5 507.7 L307.4 509.0 L310.4 510.2 L313.3 511.4 L316.3 512.5 L319.2 513.6 L322.2 514.7 L325.1 515.7 L328.0 516.7 L331.0 517.7 L333.9 518.6 L336.9 519.4 L339.8 520.2 L342.8 521.0 L345.7 521.7 L348.7 522.4 L351.6 523.1 L354.6 523.7 L357.5 524.2 L360.5 524.7 L363.4 525.2 L366.4 525.6 L369.3 526.0 L372.2 526.4 L375.2 526.8 L378.1 527.1 L381.1 527.4 L384.0 527.6 L386.9 527.9 L389.9 528.1 L392.8 528.3 L395.7 528.4 L398.7 528.6 L401.6 528.7 L404.5 528.9 L407.5 529.0 L410.4 529.1 L413.3 529.2 L416.2 529.3 L419.2 529.3 L422.1 529.4 L425.0 529.5 L428.0 529.5 L430.9 529.6 L433.8 529.6 L436.7 529.7 L439.7 529.7 L442.6 529.7 L445.5 529.8 L448.4 529.8 L451.4 529.8 L454.3 529.8 L457.2 529.9 L460.1 529.9 L463.1 529.9 L466.0 529.9 L466.0 527.5 L463.1 527.5 L460.2 527.5 L457.2 527.4 L454.3 527.4 L451.4 527.4 L448.5 527.4 L445.5 527.3 L442.6 527.3 L439.7 527.3 L436.8 527.2 L433.8 527.2 L430.9 527.2 L428.0 527.1 L425.1 527.0 L422.2 527.0 L419.2 526.9 L416.3 526.8 L413.4 526.7 L410.5 526.6 L407.5 526.5 L404.6 526.4 L401.7 526.3 L398.8 526.1 L395.9 525.9 L393.0 525.7 L390.0 525.5 L387.1 525.3 L384.2 525.1 L381.3 524.8 L378.4 524.5 L375.5 524.2 L372.6 523.8 L369.7 523.4 L366.7 523.0 L363.8 522.5 L360.9 522.0 L358.0 521.5 L355.1 520.9 L352.2 520.3 L349.3 519.7 L346.4 519.0 L343.5 518.2 L340.6 517.4 L337.7 516.6 L334.8 515.7 L331.9 514.8 L329.0 513.8 L326.1 512.8 L323.2 511.8 L320.3 510.7 L317.4 509.6 L314.5 508.5 L311.6 507.3 L308.7 506.0 L305.8 504.8 L302.8 503.5 L299.9 502.2 L297.0 500.9 L294.1 499.6 L291.2 498.2 L288.3 496.8 L285.4 495.4 L282.4 494.0 L279.5 492.5 L276.6 491.1 L273.7 489.6 L270.8 488.2 L267.9 486.7 L264.9 485.2 L262.0 483.7 L259.1 482.2 L256.2 480.7 L253.3 479.2 L250.3 477.6 L247.4 476.1 L244.5 474.6 L241.6 473.0 L238.6 471.5 L235.7 470.0 L232.8 468.4Z" fill="#000"/>
<circle cx="80.9" cy="403.4" r="4.7" fill="#fff" stroke="#000" stroke-width="1.2"/>
<circle cx="80.9" cy="400.4" r="4.7" fill="#fff" stroke="#000" stroke-width="1.2"/>
<circle cx="80.9" cy="389.0" r="4.7" fill="#fff" stroke="#000" stroke-width="1.2"/>
<circle cx="80.9" cy="383.0" r="4.7" fill="#fff" stroke="#000" stroke-width="1.2"/>
<circle cx="80.9" cy="377.0" r="4.7" fill="#fff" stroke="#000" stroke-width="1.2"/>
<circle cx="111.2" cy="393.8" r="4.7" fill="#fff" stroke="#000" stroke-width="1.2"/>
<circle cx="111.2" cy="398.2" r="4.7" fill="#fff" stroke="#000" stroke-width="1.2"/>
<circle cx="111.2" cy="420.8" r="4.7" fill="#fff" stroke="#000" stroke-width="1.2"/>
<circle cx="111.2" cy="411.6" r="4.7" fill="#fff" stroke="#000" stroke-width="1.2"/>
<circle cx="111.2" cy="403.5" r="4.7" fill="#fff" stroke="#000" stroke-width="1.2"/>
<circle cx="141.4" cy="407.7" r="4.7" fill="#fff" stroke="#000" stroke-width="1.2"/>
<circle cx="141.4" cy="417.6" r="4.7" fill="#fff" stroke="#000" stroke-width="1.2"/>
<circle cx="141.4" cy="429.3" r="4.7" fill="#fff" stroke="#000" stroke-width="1.2"/>
<circle cx="171.7" cy="430.5" r="4.7" fill="#fff" stroke="#000" stroke-width="1.2"/>
<circle cx="171.7" cy="434.1" r="4.7" fill="#fff" stroke="#000" stroke-width="1.2"/>
<circle cx="171.7" cy="451.2" r="4.7" fill="#fff" stroke="#000" stroke-width="1.2"/>
<circle cx="171.7" cy="448.5" r="4.7" fill="#fff" stroke="#000" stroke-width="1.2"/>
<circle cx="171.7" cy="444.0" r="4.7" fill="#fff" stroke="#000" stroke-width="1.2"/>
<circle cx="171.7" cy="438.6" r="4.7" fill="#fff" stroke="#000" stroke-width="1.2"/>
<circle cx="202.0" cy="439.0" r="4.7" fill="#fff" stroke="#000" stroke-width="1.2"/>
<circle cx="202.0" cy="443.0" r="4.7" fill="#fff" stroke="#000" stroke-width="1.2"/>
<circle cx="202.0" cy="448.5" r="4.7" fill="#fff" stroke="#000" stroke-width="1.2"/>
<circle cx="202.0" cy="456.6" r="4.7" fill="#fff" stroke="#000" stroke-width="1.2"/>
<circle cx="232.2" cy="456.8" r="4.7" fill="#fff" stroke="#000" stroke-width="1.2"/>
<circle cx="232.2" cy="464.4" r="4.7" fill="#fff" stroke="#000" stroke-width="1.2"/>
<circle cx="232.2" cy="470.7" r="4.7" fill="#fff" stroke="#000" stroke-width="1.2"/>
<circle cx="232.2" cy="478.4" r="4.7" fill="#fff" stroke="#000" stroke-width="1.2"/>
<circle cx="444.1" cy="492.7" r="4.7" fill="#fff" stroke="#000" stroke-width="1.2"/>
<text transform="translate(38.5 369.9) scale(0.975 1.000)" font-size="22.8" text-anchor="start">10</text>
<text transform="translate(63.3 358.9) scale(0.920 1.030)" font-size="15.5" text-anchor="start">0</text>
<text transform="translate(33.5 498.9) scale(0.975 1.000)" font-size="22.8" text-anchor="start">10</text>
<text transform="translate(58.8 487.9) scale(0.920 1.030)" font-size="15.5" text-anchor="start">-1</text>
<text transform="translate(33.5 626.8) scale(0.975 1.000)" font-size="22.8" text-anchor="start">10</text>
<text transform="translate(58.8 615.8) scale(1.020 1.030)" font-size="15.5" text-anchor="start">-2</text>
<text transform="translate(64.5 651.8) scale(0.975 1.000)" font-size="22.8" text-anchor="start">10</text>
<text transform="translate(89.3 640.2) scale(0.920 1.030)" font-size="15.5" text-anchor="start">0</text>
<text transform="translate(165.3 651.8) scale(0.975 1.000)" font-size="22.8" text-anchor="start">10</text>
<text transform="translate(190.1 640.2) scale(0.920 1.030)" font-size="15.5" text-anchor="start">1</text>
<text transform="translate(266.1 651.8) scale(0.975 1.000)" font-size="22.8" text-anchor="start">10</text>
<text transform="translate(290.9 640.2) scale(0.920 1.030)" font-size="15.5" text-anchor="start">2</text>
<text transform="translate(366.9 651.8) scale(0.975 1.000)" font-size="22.8" text-anchor="start">10</text>
<text transform="translate(391.7 640.2) scale(0.920 1.030)" font-size="15.5" text-anchor="start">3</text>
<text transform="translate(467.7 651.8) scale(0.975 1.000)" font-size="22.8" text-anchor="start">10</text>
<text transform="translate(492.5 640.2) scale(0.920 1.030)" font-size="15.5" text-anchor="start">4</text>
<text transform="translate(85.6 677.2) scale(1.008 1.040)" font-size="22.8" text-anchor="start">NUMBER OF AVERAGED FTs</text>
<text transform="translate(418.1 677.2) scale(1.000 1.060)" font-size="22.8" text-anchor="start" class="i">N</text>
<text transform="translate(434.6 691.2) scale(1.000 1.050)" font-size="15.5" text-anchor="start" class="i">FT</text>
<text transform="translate(17.1 623.0) rotate(-90)" font-size="22.75">NORMALIZED ERROR</text>
<text transform="translate(17.2 369.4) rotate(-90)" font-size="25" class="s">ε</text>
<text transform="translate(426.0 59.0) scale(0.975 0.980)" font-size="22.8" text-anchor="start">(a)</text>
<text transform="translate(362.1 121.0) scale(1.000 1.040)" font-size="22.8" text-anchor="start" class="i">N</text>
<text transform="translate(379.1 134.6) scale(0.900 1.000)" font-size="15.5" text-anchor="start" class="i">S</text>
<text transform="translate(389.1 120.7) scale(0.970 1.040)" font-size="22.8" text-anchor="start">=20</text>
<text transform="translate(349.9 233.0) scale(1.000 1.040)" font-size="22.8" text-anchor="start" class="i">N</text>
<text transform="translate(366.9 246.6) scale(0.900 1.000)" font-size="15.5" text-anchor="start" class="i">S</text>
<text transform="translate(376.9 232.7) scale(0.970 1.040)" font-size="22.8" text-anchor="start">=200</text>
<text transform="translate(101.0 172.2) scale(0.980 1.040)" font-size="22.8" text-anchor="start"><tspan class="i">n</tspan>=5</text>
<text transform="translate(101.0 198.8) scale(0.987 1.040)" font-size="22.8" text-anchor="start"><tspan class="i">L</tspan>=2000 nm</text>
<text transform="translate(101.0 227.0) scale(0.977 1.040)" font-size="22.8" text-anchor="start"><tspan class="s" font-size="24">Δ</tspan><tspan class="i">y</tspan>=10 nm</text>
<text transform="translate(102.0 256.3) scale(1.000 1.000)" font-size="28.0" text-anchor="start" class="s">ξ</text>
<text transform="translate(116.6 255.5) scale(0.965 1.040)" font-size="22.8" text-anchor="start">=3000 nm</text>
<text transform="translate(426.0 405.0) scale(0.985 0.960)" font-size="22.8" text-anchor="start">(b)</text>
<text transform="translate(364.2 463.2) scale(1.000 1.040)" font-size="22.8" text-anchor="start" class="i">N</text>
<text transform="translate(381.2 476.8) scale(0.900 1.000)" font-size="15.5" text-anchor="start" class="i">S</text>
<text transform="translate(391.2 462.9) scale(0.970 1.040)" font-size="22.8" text-anchor="start">=20</text>
<text transform="translate(351.7 567.2) scale(1.000 1.040)" font-size="22.8" text-anchor="start" class="i">N</text>
<text transform="translate(368.7 580.8) scale(0.900 1.000)" font-size="15.5" text-anchor="start" class="i">S</text>
<text transform="translate(378.7 566.9) scale(0.970 1.040)" font-size="22.8" text-anchor="start">=200</text>
<path d="M101.5 511.4V569H206.5" stroke="#000" stroke-width="1.5" fill="none"/>
<path d="M101.5 511.4L206.5 569" stroke="#000" stroke-width="2.4" fill="none"/>
<text transform="translate(135.8 518.6) scale(1.000 1.030)" font-size="22.8" text-anchor="start" class="i">N</text>
<text transform="translate(152.4 533.0) scale(1.000 1.060)" font-size="15.5" text-anchor="start" class="i">FT</text>
<text transform="translate(171.3 505.6) scale(1.000 1.080)" font-size="15.5" text-anchor="start">-0.42</text>
<text transform="translate(102.5 606.4) scale(0.960 1.040)" font-size="22.8" text-anchor="start"><tspan class="i">n</tspan>=20</text>
</svg></body></html>
